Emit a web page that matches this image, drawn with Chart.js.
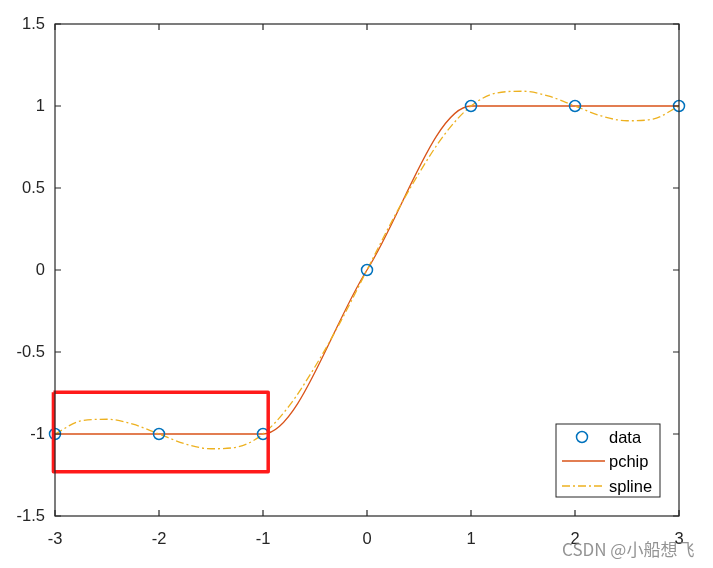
<!DOCTYPE html>
<html>
<head>
<meta charset="utf-8">
<script src="https://cdn.jsdelivr.net/npm/chart.js@4/dist/chart.umd.min.js"></script>
<style>
    body { margin: 0; background: #fff; }
    #wrap { width: 713px; height: 568px; }
</style>
</head>
<body>
<div id="wrap"><canvas id="myChart" width="713" height="568"></canvas></div>
<script>
// -------------------------------------------------------------------------- Data

const dataX = [-3, -2, -1, 0, 1, 2, 3]
const dataY = [-1, -1, -1, 0, 1, 1, 1]

// pchip runs through the same nodes, drawn with monotone cubic
const pchipX = [-3, -2, -1, 0, 1, 2, 3]
const pchipY = [-1, -1, -1, 0, 1, 1, 1]

// spline, every 0.25
const splineX = [-3, -2.75, -2.5, -2.25, -2, -1.75, -1.5, -1.25, -1, -0.75, -0.5, -0.25, 0,
    0.25, 0.5, 0.75, 1, 1.25, 1.5, 1.75, 2, 2.25, 2.5, 2.75, 3]
const splineY = [-1, -0.92, -0.91, -0.94, -1, -1.06, -1.09, -1.08, -1, -0.83, -0.59, -0.31, 0,
    0.31, 0.59, 0.83, 1, 1.08, 1.09, 1.06, 1, 0.94, 0.91, 0.92, 1]

// red highlight box
const boxX = [-3.015, -0.95, -0.95, -3.015, -3.015]
const boxY = [-0.745, -0.745, -1.23, -1.23, -0.745]

const xTicks = [-3, -2, -1, 0, 1, 2, 3]
const yTicks = [-1.5, -1, -0.5, 0, 0.5, 1, 1.5]

const legendLabels = ['data', 'pchip', 'spline']
const watermark = 'CSDN @小船想飞'

let blue = '#0072BD'
let orange = '#D95319'
let yellow = '#EDB120'
let red = '#FF1A1A'
let axisColor = '#262626'

const pts = (xs, ys) => xs.map((x, i) => ({ x: x, y: ys[i] }))

// -------------------------------------------------------------------------- Plugins

// MATLAB style box with inward ticks on all four sides
const boxPlugin = {
    id: 'box',
    afterDraw(chart) {
        const ctx = chart.ctx
        const a = chart.chartArea
        const sx = chart.scales.x
        const sy = chart.scales.y
        const len = 6
        ctx.save()
        ctx.strokeStyle = axisColor
        ctx.lineWidth = 1.2
        ctx.strokeRect(a.left, a.top, a.right - a.left, a.bottom - a.top)
        ctx.beginPath()
        xTicks.forEach(v => {
            const px = sx.getPixelForValue(v)
            ctx.moveTo(px, a.bottom); ctx.lineTo(px, a.bottom - len)
            ctx.moveTo(px, a.top); ctx.lineTo(px, a.top + len)
        })
        yTicks.forEach(v => {
            const py = sy.getPixelForValue(v)
            ctx.moveTo(a.left, py); ctx.lineTo(a.left + len, py)
            ctx.moveTo(a.right, py); ctx.lineTo(a.right - len, py)
        })
        ctx.stroke()
        ctx.restore()
    }
}

// legend box in the lower right corner
const legendPlugin = {
    id: 'cornerLegend',
    afterDraw(chart) {
        const ctx = chart.ctx
        const a = chart.chartArea
        const right = a.right - 19
        const bottom = a.bottom - 19
        const w = 104
        const h = 73
        const left = right - w
        const top = bottom - h
        ctx.save()
        ctx.fillStyle = '#fff'
        ctx.fillRect(left, top, w, h)
        ctx.strokeStyle = axisColor
        ctx.lineWidth = 1
        ctx.strokeRect(left, top, w, h)

        const rows = [top + 13, top + 37, top + 62]
        // data marker
        ctx.strokeStyle = blue
        ctx.lineWidth = 1.5
        ctx.beginPath()
        ctx.arc(left + 26, rows[0], 5.5, 0, Math.PI * 2)
        ctx.stroke()
        // pchip line
        ctx.strokeStyle = orange
        ctx.lineWidth = 1.3
        ctx.beginPath()
        ctx.moveTo(left + 6, rows[1]); ctx.lineTo(left + 49, rows[1])
        ctx.stroke()
        // spline line
        ctx.strokeStyle = yellow
        ctx.setLineDash([8, 3, 2, 3])
        ctx.beginPath()
        ctx.moveTo(left + 6, rows[2]); ctx.lineTo(left + 49, rows[2])
        ctx.stroke()
        ctx.setLineDash([])

        ctx.fillStyle = '#000'
        ctx.font = '16.5px "Liberation Sans"'
        ctx.textBaseline = 'middle'
        legendLabels.forEach((t, i) => ctx.fillText(t, left + 53, rows[i] + 1))
        ctx.restore()
    }
}

const watermarkPlugin = {
    id: 'watermark',
    afterDraw(chart) {
        const ctx = chart.ctx
        ctx.save()
        ctx.font = '17px "Noto Sans CJK SC", "Liberation Sans"'
        ctx.textBaseline = 'middle'
        ctx.fillStyle = 'rgba(120, 120, 120, 0.8)'
        ctx.fillText(watermark, 562, 550)
        ctx.restore()
    }
}

// -------------------------------------------------------------------------- Chart Config

const tickFont = { family: 'Liberation Sans', size: 16.5 }

const config = {
    type: 'line',
    data: {
        datasets: [
            {
                label: 'box',
                data: pts(boxX, boxY),
                borderColor: red,
                borderWidth: 3.5,
                borderJoinStyle: 'round',
                pointRadius: 0,
                tension: 0,
                clip: false,
                order: 0
            },
            {
                label: 'data',
                data: pts(dataX, dataY),
                showLine: false,
                pointStyle: 'circle',
                pointRadius: 5.5,
                pointBorderWidth: 1.5,
                pointBorderColor: blue,
                pointBackgroundColor: 'rgba(0,0,0,0)',
                clip: false,
                order: 1
            },
            {
                label: 'pchip',
                data: pts(pchipX, pchipY),
                borderColor: orange,
                borderWidth: 1.3,
                pointRadius: 0,
                cubicInterpolationMode: 'monotone',
                order: 3
            },
            {
                label: 'spline',
                data: pts(splineX, splineY),
                borderColor: yellow,
                borderWidth: 1.3,
                borderDash: [8, 3, 2, 3],
                pointRadius: 0,
                cubicInterpolationMode: 'monotone',
                order: 2
            }
        ]
    },
    options: {
        responsive: false,
        animation: false,
        layout: {
            padding: { top: 24, right: 34, left: 0, bottom: 0 }
        },
        plugins: {
            legend: { display: false },
            tooltip: { enabled: false }
        },
        scales: {
            x: {
                type: 'linear',
                min: -3,
                max: 3,
                afterFit: s => { s.height = 52 },
                afterBuildTicks: s => { s.ticks = xTicks.map(v => ({ value: v })) },
                grid: { display: false, drawTicks: false },
                border: { display: false },
                ticks: {
                    color: axisColor,
                    font: tickFont,
                    padding: 14,
                    maxRotation: 0,
                    callback: v => String(v)
                }
            },
            y: {
                type: 'linear',
                min: -1.5,
                max: 1.5,
                afterFit: s => { s.width = 55 },
                afterBuildTicks: s => { s.ticks = yTicks.map(v => ({ value: v })) },
                grid: { display: false, drawTicks: false },
                border: { display: false },
                ticks: {
                    color: axisColor,
                    font: tickFont,
                    padding: 10,
                    callback: v => String(v)
                }
            }
        }
    },
    plugins: [boxPlugin, legendPlugin, watermarkPlugin]
}

// -------------------------------------------------------------------------- Render Chart
let myChart = new Chart(document.getElementById('myChart'), config)
</script>
</body>
</html>
